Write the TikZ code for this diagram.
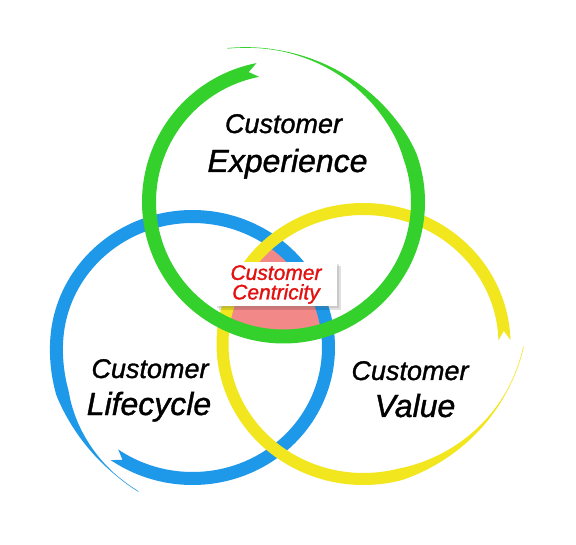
\documentclass[tikz,border=0pt]{standalone}
\usepackage{fontspec}
\setmainfont{Liberation Sans}
\newfontfamily\lblfont{Liberation Sans}[ItalicFeatures={FakeBold=1.2}]
\usetikzlibrary{shadows}
\definecolor{cgreen}{RGB}{52,208,44}
\definecolor{cblue}{RGB}{30,152,232}
\definecolor{cyellow}{RGB}{242,230,30}
\definecolor{cpink}{RGB}{242,136,136}
\definecolor{cred}{RGB}{228,16,16}
\newcommand\brushstroke[7]{%
 \fill[#1] plot[domain=#6:#7, samples=180, variable=\x, smooth]
   ({#2+(#4+bro(\x)+bw(\x)/2)*cos(\x)}, {#3-(#5+bro(\x)+bw(\x)/2)*sin(\x)})
   -- plot[domain=#7:#6, samples=180, variable=\x, smooth]
   ({#2+(#4+bro(\x)-bw(\x)/2)*cos(\x)}, {#3-(#5+bro(\x)-bw(\x)/2)*sin(\x)})
   -- ({#2+(#4)*cos(#6+4)}, {#3-(#5)*sin(#6+4)}) -- cycle;}
\begin{document}
\begin{tikzpicture}[x=1pt,y=-1pt,
  lbl/.style={font=\lblfont\itshape\fontsize{27}{30}\selectfont, anchor=base, inner sep=0pt},
  big/.style={font=\lblfont\itshape\fontsize{32}{36}\selectfont, anchor=base, inner sep=0pt},
  centerbox/.style={fill=white, minimum width=122pt, minimum height=44pt,
    general shadow={fill=black, shadow xshift=4pt, shadow yshift=-4pt, opacity=0.12},
    drop shadow={shadow xshift=2pt, shadow yshift=-2pt, opacity=0.22},
    text=cred, align=center, font=\lblfont\itshape\fontsize{21}{19.5}\selectfont, inner sep=0pt}]
\useasboundingbox (0,0) rectangle (576,545);
\fill[white] (0,0) rectangle (576,545);
% centre overlap
\begin{scope}
\clip (283.5,202) ellipse [x radius=134.5pt, y radius=134.5pt];
\clip (192.5,347.5) ellipse [x radius=136pt, y radius=131pt];
\clip (363.5,344) ellipse [x radius=141pt, y radius=135pt];
\fill[cpink] (0,0) rectangle (576,545);
\end{scope}
% blue
\begin{scope}[declare function={
  bw(\x)=(\x<560) ? 13 : max(0.6,13*(1-(\x-560)/50)*(1-(\x-560)/50));
  bro(\x)=(\x<536) ? 0 : 0.00406*(\x-536)*(\x-536);}]
\brushstroke{cblue}{192.5}{347.5}{136}{131}{235}{610}
\end{scope}
% yellow
\begin{scope}[declare function={
  bw(\x)=(\x<285) ? 12 : max(0.6,12*(1-(\x-285)/74)*(1-(\x-285)/74));
  bro(\x)=(\x<290) ? 0 : 0.004*(\x-290)*(\x-290);}]
\brushstroke{cyellow}{363.5}{344}{141}{135}{1.6}{359}
\end{scope}
% green
\begin{scope}[declare function={
  bw(\x)=(\x<380) ? 14 : max(0.6,14*(1-(\x-380)/90)*(1-(\x-380)/90));
  bro(\x)=(\x<391.4) ? 0 : 0.0047*(\x-391.4)*(\x-391.4);}]
\brushstroke{cgreen}{283.5}{202}{134.5}{134.5}{101}{470}
\end{scope}
% labels
\node[lbl] (ce1) at (283.5,133) {Customer};
\node[big] (ce2) at (287.5,172) {Experience};
\node[lbl] (cl1) at (150,378) {Customer};
\node[big] (cl2) at (149,415) {Lifecycle};
\node[lbl] (cv1) at (410,380) {Customer};
\node[big] (cv2) at (415,417) {Value};
\node[centerbox] (cc) at (276,284.5) {Customer\\Centricity};
\end{tikzpicture}
\end{document}
